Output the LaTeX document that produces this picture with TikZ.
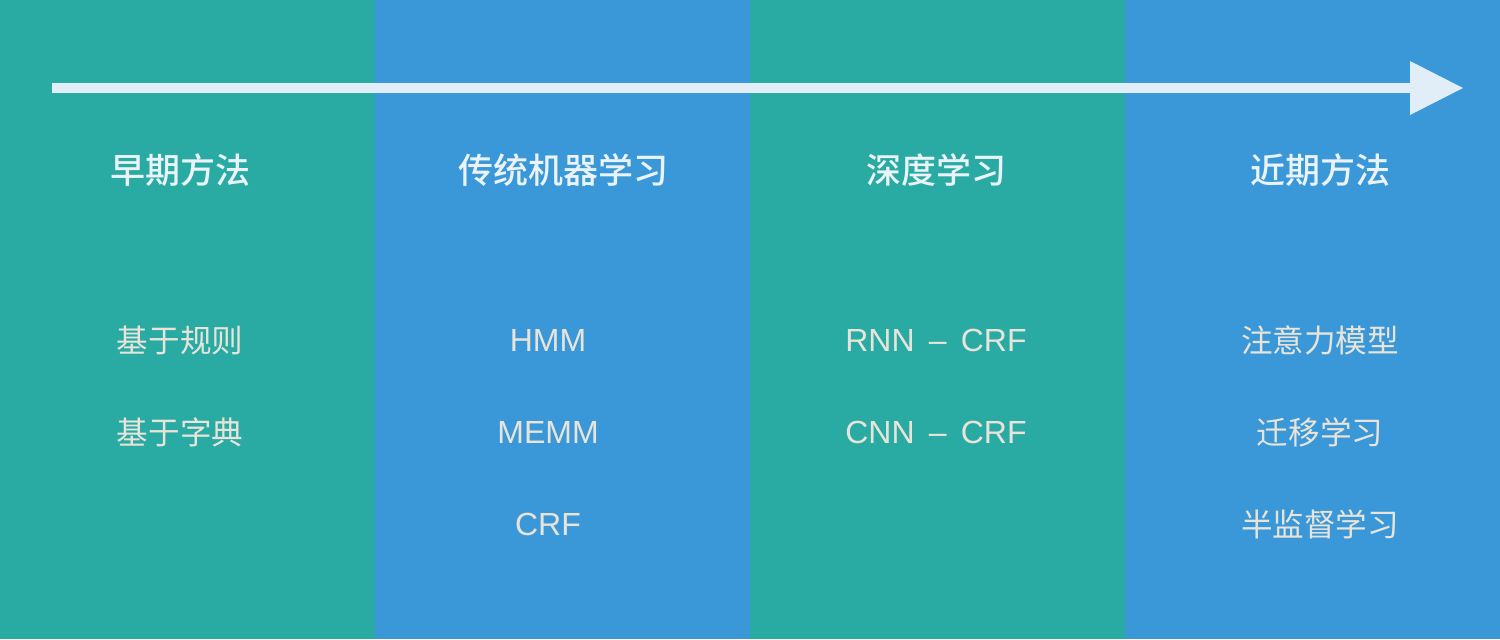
\documentclass[tikz,border=0pt]{standalone}
\usepackage{fontspec}
\setmainfont{Liberation Sans}
\newfontfamily\cjk{Noto Sans CJK SC}
\newfontfamily\cjkb{Noto Sans CJK SC Medium}
\definecolor{tealbg}{HTML}{29ABA4}
\definecolor{bluebg}{HTML}{3A98D9}
\definecolor{arrowc}{HTML}{E2EEF7}
\definecolor{bodytxt}{HTML}{E8E4DA}
\definecolor{headtxt}{HTML}{EAF3F8}
\tikzset{
  head/.style={text=headtxt,font=\cjkb\fontsize{17.5}{20}\selectfont,inner sep=0pt},
  itemcn/.style={text=bodytxt,font=\cjk\fontsize{15.8}{19}\selectfont,inner sep=0pt},
  itemen/.style={text=bodytxt,font=\fontsize{16}{19}\selectfont,inner sep=0pt},
}
\begin{document}
\begin{tikzpicture}[x=0.5pt,y=-0.5pt]
\useasboundingbox (0,0) rectangle (1500,639);
\fill[tealbg] (0,0) rectangle (375,639);
\fill[bluebg] (375,0) rectangle (750,639);
\fill[tealbg] (750,0) rectangle (1125,639);
\fill[bluebg] (1125,0) rectangle (1500,639);
% arrow
\fill[arrowc] (52,83) rectangle (1412,93);
\fill[arrowc] (1410,61) -- (1463,88) -- (1410,115) -- cycle;
% headers
\node[head] (h1) at (180,170) {早期方法};
\node[head] (h2) at (563,170) {传统机器学习};
\node[head] (h3) at (936,170) {深度学习};
\node[head] (h4) at (1320,170) {近期方法};
% column 1
\node[itemcn] (a1) at (180,340) {基于规则};
\node[itemcn] (a2) at (180,432) {基于字典};
% column 2
\node[itemen] (b1) at (548,340) {HMM};
\node[itemen] (b2) at (548,432) {MEMM};
\node[itemen] (b3) at (548,524) {CRF};
% column 3
\node[itemen] (c1) at (936,340) {RNN \,--\, CRF};
\node[itemen] (c2) at (936,432) {CNN \,--\, CRF};
% column 4
\node[itemcn] (d1) at (1320,340) {注意力模型};
\node[itemcn] (d2) at (1320,432) {迁移学习};
\node[itemcn] (d3) at (1320,524) {半监督学习};
\end{tikzpicture}
\end{document}
